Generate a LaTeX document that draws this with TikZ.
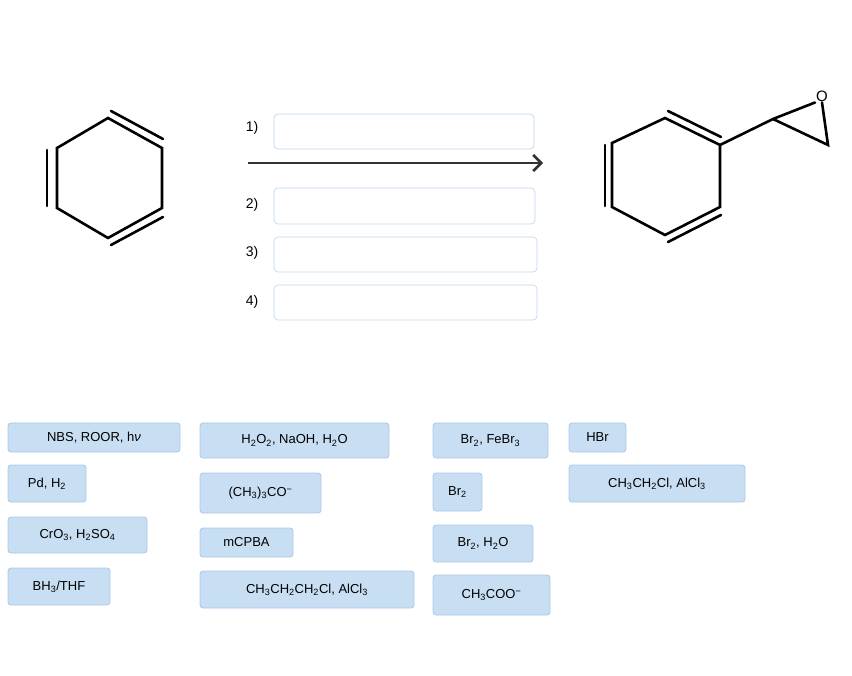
\documentclass[tikz,border=0pt]{standalone}
\usepackage{fontspec}
\usetikzlibrary{arrows.meta}
\setmainfont{Liberation Sans}
\newcommand\sbs[1]{\textsubscript{#1}}
\newcommand\sps[1]{\textsuperscript{#1}}
\definecolor{chipfill}{RGB}{200,222,242}
\definecolor{chipdraw}{RGB}{170,200,232}
\definecolor{boxdraw}{RGB}{190,215,238}
\tikzset{
 bond/.style={line width=2.6pt,line cap=round},
 chip/.style={draw=chipdraw,fill=chipfill,rounded corners=3pt,line width=0.8pt,font=\fontsize{13}{15}\selectfont,inner sep=0pt},
 slot/.style={draw=boxdraw,rounded corners=4pt,line width=0.7pt},
 lab/.style={font=\fontsize{14}{16}\selectfont}
}
\begin{document}
\begin{tikzpicture}[x=1pt,y=-1pt]
\useasboundingbox (0,0) rectangle (852,676);
% left benzene
\coordinate (a1) at (108,118); \coordinate (a2) at (162,148); \coordinate (a3) at (162,208);
\coordinate (a4) at (108,238); \coordinate (a5) at (57,208); \coordinate (a6) at (57,148);
\draw[bond] (a1)--(a2)--(a3)--(a4)--(a5)--(a6)--cycle;
\draw[bond] (47,150)--(47,206);
\draw[bond] (111,111)--(163,139);
\draw[bond] (111,245)--(163,217);
% right benzene
\coordinate (b1) at (665,118); \coordinate (b2) at (720,145); \coordinate (b3) at (720,207);
\coordinate (b4) at (665,235); \coordinate (b5) at (612,207); \coordinate (b6) at (612,143);
\draw[bond] (b1)--(b2)--(b3)--(b4)--(b5)--(b6)--cycle;
\draw[bond] (605,145)--(605,206);
\draw[bond] (668,111)--(721,137);
\draw[bond] (668,242)--(721,215);
\coordinate (c1) at (773,119); \coordinate (c2) at (828,145);
\node[font=\fontsize{15}{17}\selectfont,inner sep=1pt] (ox) at (822,96) {O};
\draw[bond] (b2)--(c1)--(ox.south west);
\draw[bond] (c1)--(c2)--(ox.south);
% arrow
\coordinate (ar1) at (248,163); \coordinate (ar2) at (543,163);
\draw[line width=2.6pt,draw=black!80,-{Straight Barb[length=8pt,width=16pt]}] (ar1)--(ar2);
\node[lab] (l1) at (252,128) {1)};
\node[lab] (l2) at (252,205) {2)};
\node[lab] (l3) at (252,253) {3)};
\node[lab] (l4) at (252,302) {4)};
\draw[slot] (274,114) rectangle (534,149);
\draw[slot] (274,188) rectangle (535,224);
\draw[slot] (274,237) rectangle (537,272);
\draw[slot] (274,285) rectangle (537,320);
% chips
\newcommand\chip[6]{\node[chip,minimum width=#4-#2,minimum height=#5-#3] (#1) at ({(#2+#4)/2},{(#3+#5)/2}) {#6};}
\chip{k1}{8}{423}{180}{452}{NBS, ROOR, h\textit{ν}}
\chip{k2}{200}{423}{389}{458}{H\sbs2O\sbs2, NaOH, H\sbs2O}
\chip{k3}{433}{423}{548}{458}{Br\sbs2, FeBr\sbs3}
\chip{k4}{569}{423}{626}{452}{HBr}
\chip{k5}{8}{465}{86}{502}{Pd, H\sbs2}
\chip{k6}{200}{473}{321}{513}{(CH\sbs3)\sbs3CO\sps{−}}
\chip{k7}{433}{473}{482}{511}{Br\sbs2}
\chip{k8}{569}{465}{745}{502}{CH\sbs3CH\sbs2Cl, AlCl\sbs3}
\chip{k9}{8}{517}{147}{553}{CrO\sbs3, H\sbs2SO\sbs4}
\chip{k10}{200}{528}{293}{557}{mCPBA}
\chip{k11}{433}{525}{533}{562}{Br\sbs2, H\sbs2O}
\chip{k12}{8}{568}{110}{605}{BH\sbs3/THF}
\chip{k13}{200}{571}{414}{608}{CH\sbs3CH\sbs2CH\sbs2Cl, AlCl\sbs3}
\chip{k14}{433}{575}{550}{615}{CH\sbs3COO\sps{−}}
\end{tikzpicture}
\end{document}
